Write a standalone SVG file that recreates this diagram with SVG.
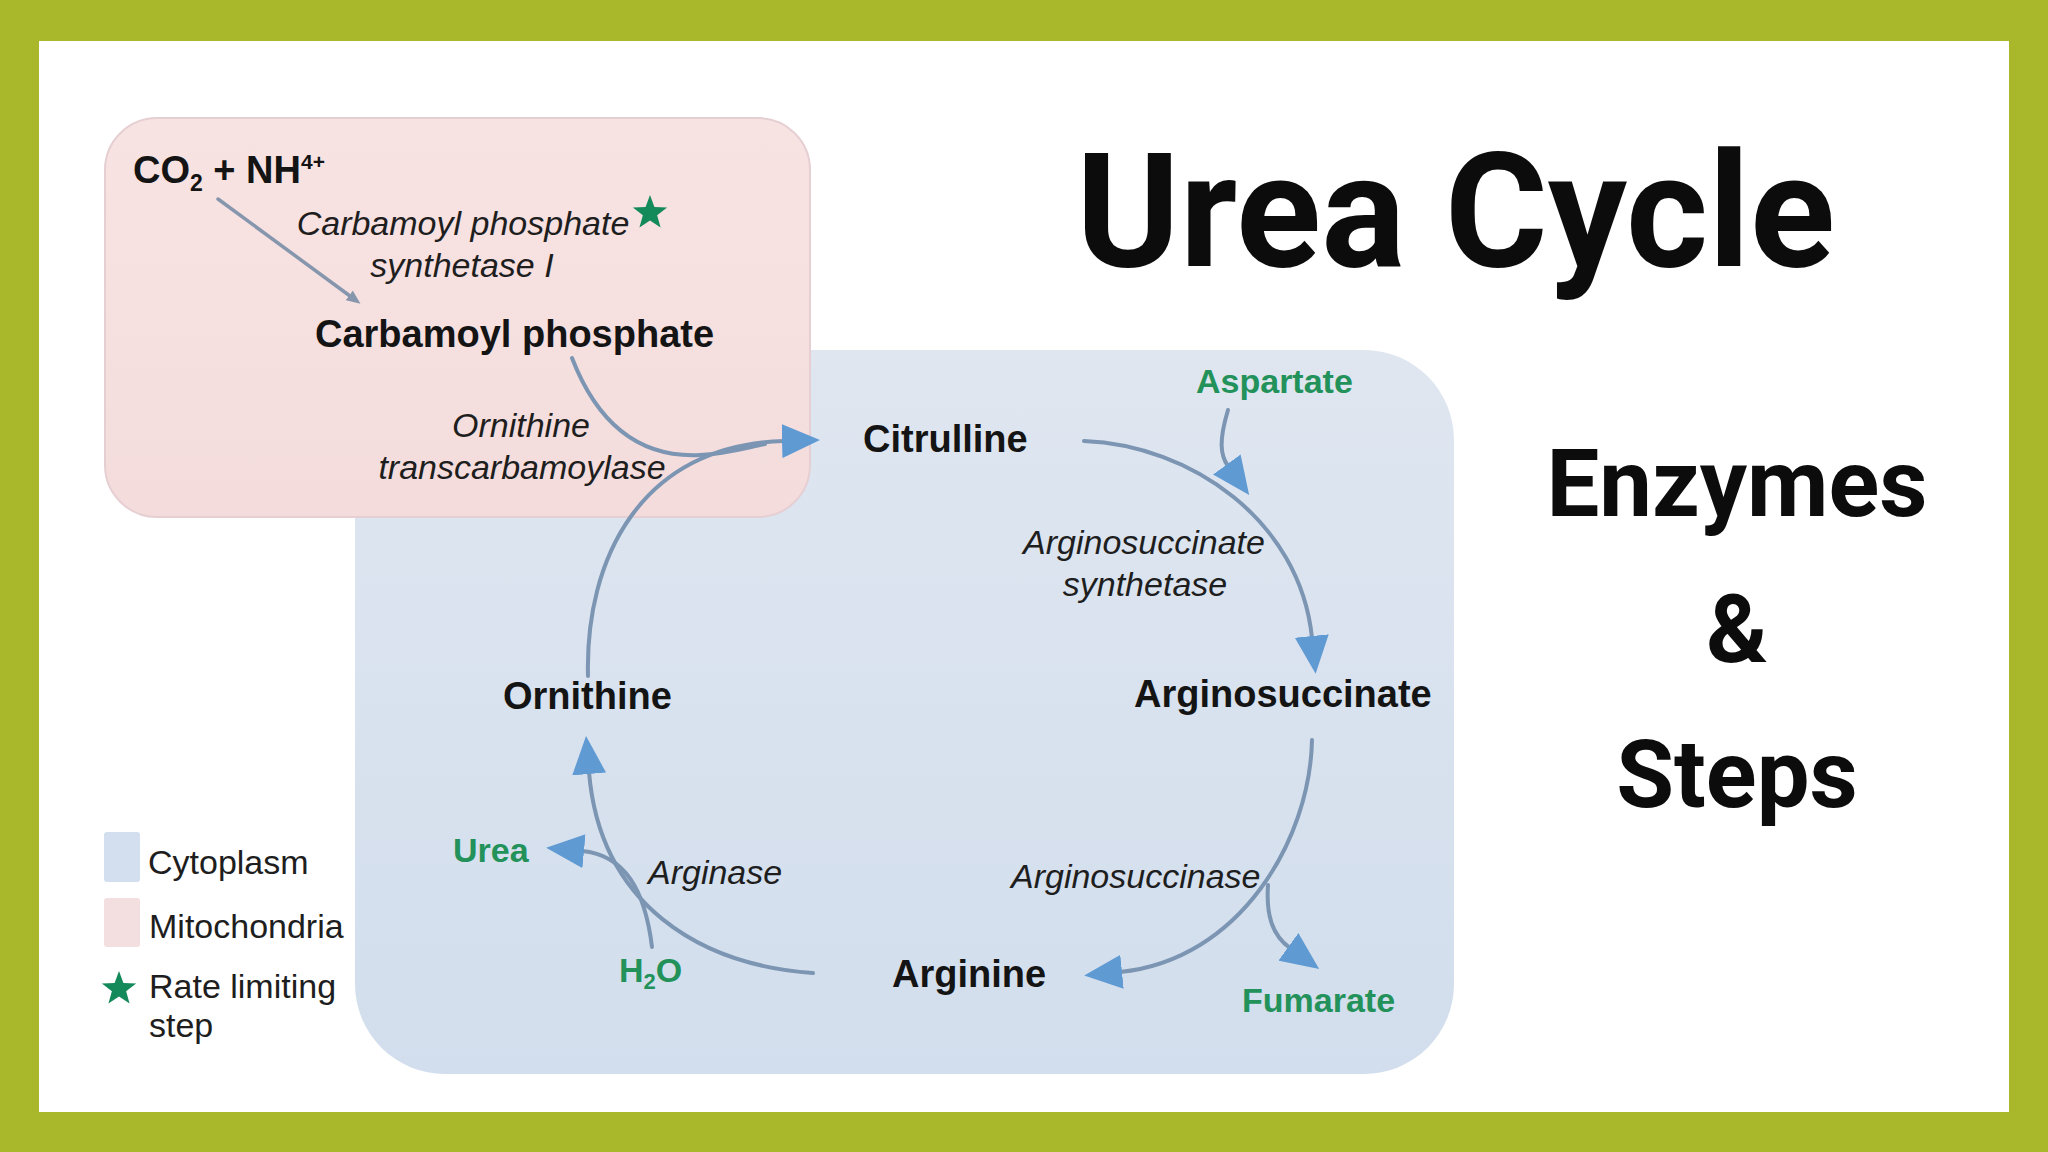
<svg xmlns="http://www.w3.org/2000/svg" width="2048" height="1152" viewBox="0 0 2048 1152">
<defs>
<style>
text{font-family:"Liberation Sans",Arial,sans-serif;fill:#141414}
.b{font-weight:bold;font-size:38px}
.i{font-style:italic;font-size:34px;fill:#1e1e1e}
.g{font-weight:bold;font-size:34px;fill:#23925a}
.lg{font-size:34px;fill:#1e1e1e}
.t{font-family:Roboto,"DejaVu Sans",sans-serif;font-weight:bold;fill:#0c0c0c}
.c{fill:none;stroke:#7b95b3;stroke-width:4;stroke-linecap:round}
.cg{fill:none;stroke:#8696ad;stroke-width:3.5;stroke-linecap:round}
</style>
<linearGradient id="gBlue" x1="0" y1="0" x2="0" y2="1">
<stop offset="0" stop-color="#dfe6f0"/>
<stop offset="1" stop-color="#d2deed"/>
</linearGradient>
<linearGradient id="gPink" x1="0" y1="0" x2="0" y2="1">
<stop offset="0" stop-color="#f8e3e3"/>
<stop offset="1" stop-color="#f4dcdc"/>
</linearGradient>
<marker id="ah" markerUnits="userSpaceOnUse" markerWidth="38" markerHeight="34" viewBox="0 0 38 34" refX="2" refY="17" orient="auto">
<path d="M0,0 L38,17 L0,34 Z" fill="#5f9ad3"/>
</marker>
<marker id="ahs" markerUnits="userSpaceOnUse" markerWidth="14" markerHeight="12" viewBox="0 0 14 12" refX="1" refY="6" orient="auto">
<path d="M0,0 L14,6 L0,12 Z" fill="#8696ad"/>
</marker>
<polygon id="star" points="0,-18 4.41,-6.07 17.12,-5.56 7.13,2.32 10.58,14.56 0,7.5 -10.58,14.56 -7.13,2.32 -17.12,-5.56 -4.41,-6.07" fill="#14895a"/>
</defs>

<rect x="0" y="0" width="2048" height="1152" fill="#a8b82a"/>
<rect x="39" y="41" width="1970" height="1071" fill="#ffffff"/>

<g id="cytoplasm">
<rect x="355" y="350" width="1099" height="724" rx="90" ry="90" fill="url(#gBlue)"/>
</g>
<g id="mitochondria">
<rect x="105" y="118" width="705" height="399" rx="52" ry="52" fill="url(#gPink)" stroke="#e6cfd2" stroke-width="2"/>
</g>

<g id="title">
<text class="t" x="1076" y="266" font-size="160" textLength="759" lengthAdjust="spacingAndGlyphs">Urea Cycle</text>
<text class="t" x="1737" y="516" font-size="94" text-anchor="middle">Enzymes</text>
<text class="t" x="1737" y="662" font-size="94" text-anchor="middle">&amp;</text>
<text class="t" x="1737" y="807" font-size="94" text-anchor="middle">Steps</text>
</g>

<g id="connectors">
<path class="cg" d="M218,199 L350,296" marker-end="url(#ahs)"/>
<path class="c" d="M572,358 C598,425 640,458 700,455 C725,454 745,448 765,444"/>
<path class="c" d="M588,676 C585,560 640,445 784,441" marker-end="url(#ah)"/>
<path class="c" d="M1084,441 C1190,445 1300,520 1312,638" marker-end="url(#ah)"/>
<path class="c" d="M1228,410 C1219,440 1220,455 1228,466" marker-end="url(#ah)"/>
<path class="c" d="M1312,740 C1310,840 1240,960 1120,972" marker-end="url(#ah)"/>
<path class="c" d="M1268,885 C1266,915 1272,935 1290,948" marker-end="url(#ah)"/>
<path class="c" d="M813,973 C700,965 600,905 589,772" marker-end="url(#ah)"/>
<path class="c" d="M652,947 C645,890 625,855 582,851" marker-end="url(#ah)"/>
</g>

<g id="co2-nh4">
<text class="b" x="133" y="183" font-size="36">CO<tspan font-size="23" dy="8">2</tspan><tspan dy="-8"> + NH</tspan><tspan font-size="21" dy="-14">4+</tspan></text>
</g>
<g id="enzyme-cps1">
<text class="i" x="463" y="235" text-anchor="middle">Carbamoyl phosphate</text>
<text class="i" x="462" y="277" text-anchor="middle">synthetase I</text>
<use href="#star" x="650" y="213"/>
</g>
<g id="carbamoyl-phosphate">
<text class="b" x="315" y="347">Carbamoyl phosphate</text>
</g>
<g id="enzyme-otc">
<text class="i" x="521" y="437" text-anchor="middle">Ornithine</text>
<text class="i" x="522" y="479" text-anchor="middle">transcarbamoylase</text>
</g>
<g id="citrulline">
<text class="b" x="863" y="452">Citrulline</text>
</g>
<g id="aspartate">
<text class="g" x="1196" y="393">Aspartate</text>
</g>
<g id="enzyme-ass">
<text class="i" x="1144" y="554" text-anchor="middle">Arginosuccinate</text>
<text class="i" x="1145" y="596" text-anchor="middle">synthetase</text>
</g>
<g id="arginosuccinate">
<text class="b" x="1134" y="707">Arginosuccinate</text>
</g>
<g id="enzyme-asl">
<text class="i" x="1011" y="888">Arginosuccinase</text>
</g>
<g id="fumarate">
<text class="g" x="1242" y="1012">Fumarate</text>
</g>
<g id="arginine">
<text class="b" x="892" y="987">Arginine</text>
</g>
<g id="ornithine">
<text class="b" x="503" y="709">Ornithine</text>
</g>
<g id="urea">
<text class="g" x="453" y="862">Urea</text>
</g>
<g id="enzyme-arginase">
<text class="i" x="648" y="884">Arginase</text>
</g>
<g id="h2o">
<text class="g" x="619" y="982">H<tspan font-size="22" dy="7">2</tspan><tspan dy="-7">O</tspan></text>
</g>

<g id="legend">
<rect x="104" y="832" width="36" height="50" rx="3" fill="#d3dfef"/>
<text class="lg" x="148" y="874">Cytoplasm</text>
<rect x="104" y="898" width="36" height="49" rx="3" fill="#f3dfdf"/>
<text class="lg" x="149" y="938">Mitochondria</text>
<use href="#star" x="119" y="989"/>
<text class="lg" x="149" y="998">Rate limiting</text>
<text class="lg" x="149" y="1037">step</text>
</g>
</svg>
